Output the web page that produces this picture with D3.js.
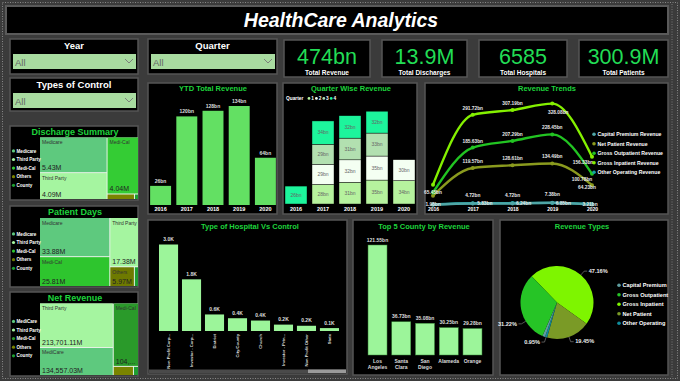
<!DOCTYPE html>
<html><head><meta charset="utf-8">
<script src="https://cdn.jsdelivr.net/npm/d3@7"></script>
<style>
body{margin:0;background:#3b3b3b;}
svg{display:block;font-family:"Liberation Sans",Arial,sans-serif;}
</style>
</head><body>
<svg id="c" width="680" height="381"></svg>
<script>
// ---------------- DATA ----------------
const years = ["2016","2017","2018","2019","2020"];
const ytdRevenue = [25.9, 120.0, 127.6, 134.1, 64.0];

const quarters = ["1","2","3","4"];
const q1Revenue = [0, 28.3, 31.4, 34.6, 33.8];
const q2Revenue = [0, 29.2, 32.4, 34.7, 30.2];
const q3Revenue = [0, 28.9, 31.4, 33.2, 0];
const q4Revenue = [25.9, 33.6, 32.4, 31.6, 0];

const trendSeries = ["Capital Premium Revenue","Net Patient Revenue","Gross Outpatient Revenue","Gross Inpatient Revenue","Other Operating Revenue"];
const capitalPremium = [0.62, 4.72, 4.72, 7.38, 1.35];
const netPatient = [30.12, 119.57, 128.61, 134.49, 64.23];
const grossOutpatient = [40.47, 185.63, 207.29, 228.45, 100.78];
const grossInpatient = [65.45, 291.72, 307.19, 328.08, 156.33];
const otherOperating = [1.98, 5.83, 6.24, 6.85, 3.21];

const hospitalTypes = ["Non Profit Corp...","Investor - Corp...","District","City/County","Church","Investor - Prtn...","Non Profit Other","State"];
const hospitalCounts = [2.98, 1.78, 0.57, 0.44, 0.36, 0.22, 0.18, 0.10];

const counties = ["Los Angeles","Santa Clara","San Diego","Alameda","Orange"];
const countyRevenue = [121.55, 36.73, 35.08, 30.25, 29.28];

const revenueTypes = ["Capital Premium","Gross Outpatient","Gross Inpatient","Net Patient","Other Operating"];
const revenueShares = [1.22, 31.22, 47.16, 19.45, 0.95];

const payerCats = ["Medicare","Third Party","Medi-Cal","Others","County"];
const dischargeVals = [5.43, 4.09, 4.04, 0.34, 0.05];
const patientDayVals = [33.88, 17.38, 25.81, 5.97, 1.0];
const netRevenueCats = ["MediCare","Third Party","Medi-Cal","Others","County"];
const netRevenueVals = [134557.03, 213701.11, 104312.5, 12000, 3000];

const kpiValues = ["474bn","13.9M","6585","300.9M"];
const kpiLabels = ["Total Revenue","Total Discharges","Total Hospitals","Total Patients"];

// ---------------- STYLE ----------------
const GREEN_T = "#1ed43c";
const BAR = "#63e063";
const BAR2 = "#9cf59a";
const svg = d3.select("#c");

svg.append("rect").attr("width",680).attr("height",381).attr("fill","#3b3b3b");
svg.append("rect").attr("x",2.5).attr("y",2.5).attr("width",675).attr("height",376)
  .attr("fill","none").attr("stroke","#888").attr("stroke-dasharray","1,1.5");
svg.append("line").attr("x1",672).attr("x2",672).attr("y1",4).attr("y2",377)
  .attr("stroke","#777").attr("stroke-dasharray","1,1.5");

function panel(x,y,w,h){
  svg.append("rect").attr("x",x).attr("y",y).attr("width",w).attr("height",h)
    .attr("fill","#000").attr("stroke","#555").attr("stroke-width",1.5);
}
function title(txt,x,y,size){
  svg.append("text").attr("x",x).attr("y",y).attr("text-anchor","middle")
    .attr("fill",GREEN_T).attr("font-weight","bold").attr("font-size",size||7.5).text(txt);
}

// Title bar
svg.append("rect").attr("x",6).attr("y",6).attr("width",662).attr("height",28)
  .attr("fill","#000").attr("stroke","#5a5a5a").attr("stroke-width",2);
svg.append("text").attr("x",341).attr("y",27).attr("text-anchor","middle")
  .attr("fill","#fff").attr("font-weight","bold").attr("font-style","italic")
  .attr("font-size",19.5).text("HealthCare Analytics");

// Slicers
function slicer(x,y,w,h,label,ly,dy){
  panel(x,y,w,h);
  svg.append("text").attr("x",x+w/2).attr("y",ly).attr("text-anchor","middle")
    .attr("fill","#fff").attr("font-weight","bold").attr("font-size",9.5).text(label);
  svg.append("rect").attr("x",x+3).attr("y",dy).attr("width",w-5).attr("height",15)
    .attr("fill","#a8dba0");
  svg.append("text").attr("x",x+5).attr("y",dy+11.5).attr("fill","#666")
    .attr("font-size",9.5).text("All");
  const cx = x+w-9;
  svg.append("polyline").attr("points",`${cx-4},${dy+5} ${cx},${dy+9} ${cx+4},${dy+5}`)
    .attr("fill","none").attr("stroke","#777").attr("stroke-width",0.9);
}
slicer(10,39,128,35,"Year",49,54);
slicer(148,39,129,35,"Quarter",49,54);
slicer(10,78,128,33,"Types of Control",88,93);

// KPI cards
const kpiBoxes = [[284,40,86,37],[382,40,85,37],[479,40,88,37],[579,40,89,37]];
kpiValues.forEach((v,i)=>{
  const b = kpiBoxes[i];
  panel(b[0],b[1],b[2],b[3]);
  svg.append("text").attr("x",b[0]+b[2]/2).attr("y",64).attr("text-anchor","middle")
    .attr("fill","#22dd55").attr("font-size",21.5).text(v);
  svg.append("text").attr("x",b[0]+b[2]/2).attr("y",74.5).attr("text-anchor","middle")
    .attr("fill","#fff").attr("font-weight","bold").attr("font-size",6.5).text(kpiLabels[i]);
});

// ---------------- TREEMAPS ----------------
function truncate(sel, maxW){
  const node = sel.node();
  let t = sel.text();
  if (node.getComputedTextLength() <= maxW) return true;
  while (t.length > 0) {
    t = t.slice(0,-1);
    sel.text(t + "...");
    if (node.getComputedTextLength() <= maxW) return true;
  }
  sel.remove(); return false;
}
function treemapPanel(py,ph,ttl,ty,cats,vals,colors,fmt,legendY){
  panel(10,py,128,ph);
  title(ttl,75,ty,9);
  const x0=40, y0=ty+3, w=98, h=py+ph-y0-1;
  const root = d3.hierarchy({children:cats.map((c,i)=>({name:c,value:vals[i]}))})
    .sum(d=>d.value||0).sort((a,b)=>b.value-a.value);
  d3.treemap().size([w,h]).paddingInner(1)(root);
  const g = svg.append("g").attr("transform",`translate(${x0},${y0})`);
  g.append("rect").attr("width",w).attr("height",h).attr("fill","#e6f2e6");
  const cell = g.selectAll("g").data(root.leaves()).join("g")
    .attr("transform",d=>`translate(${d.x0},${d.y0})`);
  cell.append("rect").attr("width",d=>d.x1-d.x0).attr("height",d=>d.y1-d.y0)
    .attr("fill",d=>colors[d.data.name]);
  cell.each(function(d){
    const cw=d.x1-d.x0, chh=d.y1-d.y0;
    const s=d3.select(this);
    if (chh>=14 && cw>=10){
      const n = s.append("text").attr("x",2).attr("y",6.5).attr("font-size",5)
        .attr("fill","#333").text(d.data.name);
      truncate(n,cw-3);
    }
    if (chh>=12 && cw>=10){
      const v = s.append("text").attr("x",2).attr("y",chh-2).attr("font-size",7)
        .attr("fill","#222").text(fmt(d.data.value));
      truncate(v,cw-3);
    }
  });
  cats.forEach((c,i)=>{
    svg.append("circle").attr("cx",13.5).attr("cy",legendY+i*8.6-1.6).attr("r",1.6)
      .attr("fill",colors[c]);
    svg.append("text").attr("x",16.5).attr("y",legendY+i*8.6).attr("font-size",4.6)
      .attr("font-weight","bold").attr("fill","#fff").text(c);
  });
}
treemapPanel(126,74,"Discharge Summary",134.5,payerCats,dischargeVals,
  {"Medicare":"#5ec97e","Third Party":"#a5f5a0","Medi-Cal":"#34cc34","Others":"#7a8400","County":"#1e9e32"},
  v=>v.toFixed(2)+"M",152.5);
treemapPanel(206,81,"Patient Days",215,payerCats,patientDayVals,
  {"Medicare":"#5ec97e","Third Party":"#a5f5a0","Medi-Cal":"#2ec52e","Others":"#6e7a00","County":"#1e9e32"},
  v=>v.toFixed(2)+"M",235.5);
treemapPanel(292,84,"Net Revenue",300.5,netRevenueCats,netRevenueVals,
  {"MediCare":"#5ec97e","Third Party":"#a5f5a0","Medi-Cal":"#2a9a2a","Others":"#7a8400","County":"#1e9e32"},
  v=>d3.format(",.2f")(v)+"M",323);

// ---------------- YTD TOTAL REVENUE ----------------
panel(148,83,129,131);
title("YTD Total Revenue",213,91);
{
  const x = d3.scaleBand().domain(years).range([147.5,278.5]).paddingInner(0.2).paddingOuter(0.1);
  const y = d3.scaleLinear().domain([0,134.1]).range([205,106]);
  svg.append("g").selectAll("rect").data(years).join("rect")
    .attr("x",d=>x(d)).attr("width",x.bandwidth())
    .attr("y",(d,i)=>y(ytdRevenue[i])).attr("height",(d,i)=>y(0)-y(ytdRevenue[i]))
    .attr("fill",BAR);
  svg.append("g").selectAll("text").data(years).join("text")
    .attr("x",d=>x(d)+x.bandwidth()/2).attr("y",(d,i)=>y(ytdRevenue[i])-3)
    .attr("text-anchor","middle").attr("font-size",5).attr("font-weight","bold")
    .attr("fill","#ddd").text((d,i)=>Math.round(ytdRevenue[i])+"bn");
  const ax = svg.append("g").attr("transform","translate(0,205)")
    .call(d3.axisBottom(x).tickSize(0).tickPadding(2));
  ax.select(".domain").remove();
  ax.selectAll("text").attr("fill","#fff").attr("font-size",5.5).attr("font-weight","bold");
}

// ---------------- QUARTER WISE REVENUE ----------------
panel(283,83,134,131);
title("Quarter Wise Revenue",351,91);
{
  const qColors = ["#b6f29e","#f4fff2","#b2e0b0","#1df59c"];
  const qSeries = [q1Revenue,q2Revenue,q3Revenue,q4Revenue];
  const rows = years.map((yr,i)=>{const o={year:yr}; quarters.forEach((q,j)=>o[q]=qSeries[j][i]); return o;});
  const stack = d3.stack().keys(quarters)(rows);
  const x = d3.scaleBand().domain(years).range([282.3,417.7]).paddingInner(0.185).paddingOuter(0.1);
  const y = d3.scaleLinear().domain([0,134.1]).range([204,111.2]);
  stack.forEach((layer,j)=>{
    const g = svg.append("g");
    layer.forEach((d,i)=>{
      if (d[1]-d[0] <= 0) return;
      g.append("rect").attr("x",x(years[i])).attr("width",x.bandwidth())
        .attr("y",y(d[1])).attr("height",y(d[0])-y(d[1]))
        .attr("fill",qColors[j]).attr("stroke","#000").attr("stroke-width",0.4);
      g.append("text").attr("x",x(years[i])+x.bandwidth()/2).attr("y",(y(d[0])+y(d[1]))/2+1.8)
        .attr("text-anchor","middle").attr("font-size",5).attr("fill","#666")
        .text(Math.round(d[1]-d[0])+"bn");
    });
  });
  const ax = svg.append("g").attr("transform","translate(0,204)")
    .call(d3.axisBottom(x).tickSize(0).tickPadding(3));
  ax.select(".domain").remove();
  ax.selectAll("text").attr("fill","#fff").attr("font-size",5.5).attr("font-weight","bold");
  svg.append("text").attr("x",286).attr("y",100).attr("font-size",4.8).attr("font-weight","bold")
    .attr("fill","#fff").text("Quarter");
  quarters.forEach((q,j)=>{
    const lx = 309 + j*7.4;
    svg.append("circle").attr("cx",lx).attr("cy",98.4).attr("r",1.4).attr("fill",qColors[j]);
    svg.append("text").attr("x",lx+2.3).attr("y",100).attr("font-size",4.8).attr("font-weight","bold")
      .attr("fill","#fff").text(q);
  });
}

// ---------------- REVENUE TRENDS ----------------
panel(425,83,243,131);
title("Revenue Trends",547,90.5);
{
  const tColors = {"Capital Premium Revenue":"#4fa6a6","Net Patient Revenue":"#8a9a1e",
    "Gross Outpatient Revenue":"#22c422","Gross Inpatient Revenue":"#84f000","Other Operating Revenue":"#16a3a3"};
  const tValues = {"Capital Premium Revenue":capitalPremium,"Net Patient Revenue":netPatient,
    "Gross Outpatient Revenue":grossOutpatient,"Gross Inpatient Revenue":grossInpatient,"Other Operating Revenue":otherOperating};
  const labelStyle = {
    "Gross Inpatient Revenue":{show:[1,1,1,1,1],dx:[0,0,0,6,-9],dy:[9,-5,-5,10,7]},
    "Gross Outpatient Revenue":{show:[0,1,1,1,1],dx:[0,0,0,0,-10],dy:[0,-5,-5,-5,7]},
    "Net Patient Revenue":{show:[0,1,1,1,1],dx:[0,0,0,0,-5],dy:[0,-5,-5,-5,4]},
    "Capital Premium Revenue":{show:[0,1,1,1,0],dx:[0,0,0,0,0],dy:[0,-7,-7,-7,0]},
    "Other Operating Revenue":{show:[1,1,1,1,1],dx:[0,12,11,11,-2],dy:[2,2,2,2,2]}
  };
  const x = d3.scalePoint().domain(years).range([433,592]);
  const y = d3.scaleLinear().domain([0,330]).range([205,103]);
  const line = d3.line().x((d,i)=>x(years[i])).y(d=>y(d)).curve(d3.curveMonotoneX);
  const drawOrder = ["Other Operating Revenue","Capital Premium Revenue","Net Patient Revenue","Gross Outpatient Revenue","Gross Inpatient Revenue"];
  drawOrder.forEach(s=>{
    const vals = tValues[s];
    svg.append("path").datum(vals).attr("d",line).attr("fill","none")
      .attr("stroke",tColors[s]).attr("stroke-width",2.4);
    svg.append("g").selectAll("circle").data(vals).join("circle")
      .attr("cx",(d,i)=>x(years[i])).attr("cy",d=>y(d)).attr("r",2).attr("fill",tColors[s]);
  });
  drawOrder.forEach(s=>{
    const vals = tValues[s], st = labelStyle[s];
    vals.forEach((v,i)=>{
      if(!st.show[i]) return;
      svg.append("text").attr("x",x(years[i])+st.dx[i]).attr("y",y(v)+st.dy[i])
        .attr("text-anchor","middle").attr("font-size",4.8).attr("font-weight","bold")
        .attr("fill","#e8e8e8").text(v.toFixed(2)+"bn");
    });
  });
  const ax = svg.append("g").attr("transform","translate(0,205)")
    .call(d3.axisBottom(x).tickSize(0).tickPadding(2.5));
  ax.select(".domain").remove();
  ax.selectAll("text").attr("fill","#fff").attr("font-size",5).attr("font-weight","bold");
  trendSeries.forEach((s,i)=>{
    const ly = 136 + i*9.5;
    svg.append("circle").attr("cx",594).attr("cy",ly-1.7).attr("r",1.8).attr("fill",tColors[s]);
    svg.append("text").attr("x",597.5).attr("y",ly).attr("font-size",5.2).attr("font-weight","bold")
      .attr("fill","#fff").text(s);
  });
}

// ---------------- TYPE OF HOSPITAL VS CONTROL ----------------
panel(148,220,199,154);
title("Type of Hospital Vs Control",250,228.5);
{
  const x = d3.scaleBand().domain(hospitalTypes).range([152.1,345.9]).paddingInner(0.17).paddingOuter(0.3);
  const y = d3.scaleLinear().domain([0,2.98]).range([331,244.5]);
  svg.append("g").selectAll("rect").data(hospitalTypes).join("rect")
    .attr("x",d=>x(d)).attr("width",x.bandwidth())
    .attr("y",(d,i)=>y(hospitalCounts[i])).attr("height",(d,i)=>y(0)-y(hospitalCounts[i]))
    .attr("fill",BAR2);
  svg.append("g").selectAll("text").data(hospitalTypes).join("text")
    .attr("x",d=>x(d)+x.bandwidth()/2).attr("y",(d,i)=>y(hospitalCounts[i])-3.5)
    .attr("text-anchor","middle").attr("font-size",5).attr("font-weight","bold")
    .attr("fill","#ddd").text((d,i)=>hospitalCounts[i].toFixed(1)+"K");
  const ax = svg.append("g").attr("transform","translate(0,331)")
    .call(d3.axisBottom(x).tickSize(0));
  ax.select(".domain").remove();
  ax.selectAll("text").attr("fill","#ddd").attr("font-size",4.2).attr("font-weight","bold")
    .attr("transform","rotate(-90)").attr("text-anchor","end")
    .attr("x",-3).attr("y",0).attr("dy","0.35em");
  svg.append("rect").attr("x",149).attr("y",369.5).attr("width",197).attr("height",3.5).attr("fill","#4a4a4a");
  svg.append("rect").attr("x",308).attr("y",369.5).attr("width",38).attr("height",3.5).attr("fill","#9a9a9a");
}

// ---------------- TOP 5 COUNTY ----------------
panel(353,220,140,155);
title("Top 5 County by Revenue",424,228.5);
{
  const x = d3.scaleBand().domain(counties).range([360.9,489.1]).paddingInner(0.2).paddingOuter(0.3);
  const y = d3.scaleLinear().domain([0,121.55]).range([355,245]);
  svg.append("g").selectAll("rect").data(counties).join("rect")
    .attr("x",d=>x(d)).attr("width",x.bandwidth())
    .attr("y",(d,i)=>y(countyRevenue[i])).attr("height",(d,i)=>y(0)-y(countyRevenue[i]))
    .attr("fill",BAR2).attr("stroke","#3a8a3a").attr("stroke-width",0.5);
  svg.append("g").selectAll("text").data(counties).join("text")
    .attr("x",d=>x(d)+x.bandwidth()/2).attr("y",(d,i)=>y(countyRevenue[i])-3.5)
    .attr("text-anchor","middle").attr("font-size",5).attr("font-weight","bold")
    .attr("fill","#ddd").text((d,i)=>countyRevenue[i].toFixed(2)+"bn");
  counties.forEach(c=>{
    const words = c.split(" ");
    const t = svg.append("text").attr("x",x(c)+x.bandwidth()/2).attr("y",362.5)
      .attr("text-anchor","middle").attr("font-size",5).attr("font-weight","bold").attr("fill","#ddd");
    words.forEach((w,k)=>t.append("tspan").attr("x",x(c)+x.bandwidth()/2).attr("dy",k?6.5:0).text(w));
  });
}

// ---------------- REVENUE TYPES PIE ----------------
panel(500,220,168,155);
title("Revenue Types",582,228.5);
{
  const pColors = {"Capital Premium":"#5f9ea0","Gross Outpatient":"#26c426","Gross Inpatient":"#7ef500",
    "Net Patient":"#7a9a26","Other Operating":"#0f8c9c"};
  const pieOrder = ["Gross Inpatient","Net Patient","Other Operating","Capital Premium","Gross Outpatient"];
  const labelAngleOverride = {"Gross Outpatient":239};
  const start = -44*Math.PI/180;
  const items = pieOrder.map(n=>({name:n, v:revenueShares[revenueTypes.indexOf(n)]}));
  const arcs = d3.pie().value(d=>d.v).sort(null).startAngle(start).endAngle(start+2*Math.PI)(items);
  const cx=557, cy=302.5, r=36.5;
  const arc = d3.arc().innerRadius(0).outerRadius(r);
  const g = svg.append("g").attr("transform",`translate(${cx},${cy})`);
  g.selectAll("path").data(arcs).join("path").attr("d",arc)
    .attr("fill",d=>pColors[d.data.name]);
  arcs.forEach(d=>{
    if (d.data.name==="Capital Premium") return;
    let a = (d.startAngle+d.endAngle)/2;
    if (labelAngleOverride[d.data.name]!==undefined) a = labelAngleOverride[d.data.name]*Math.PI/180;
    const sx = Math.sin(a)*r, sy = -Math.cos(a)*r;
    const ex = Math.sin(a)*(r+5), ey = -Math.cos(a)*(r+5);
    const right = Math.sin(a) > 0;
    const hx = ex + (right?3:-3);
    g.append("polyline").attr("points",`${sx},${sy} ${ex},${ey} ${hx},${ey}`)
      .attr("fill","none").attr("stroke","#aaa").attr("stroke-width",0.5);
    g.append("text").attr("x",hx+(right?1.5:-1.5)).attr("y",ey+1.8)
      .attr("text-anchor",right?"start":"end").attr("font-size",5.6).attr("font-weight","bold")
      .attr("fill","#eee").text(d.data.v.toFixed(2)+"%");
  });
  revenueTypes.forEach((n,i)=>{
    const ly = 287 + i*9.5;
    svg.append("circle").attr("cx",619).attr("cy",ly-1.7).attr("r",1.8).attr("fill",pColors[n]);
    svg.append("text").attr("x",622.5).attr("y",ly).attr("font-size",5.6).attr("font-weight","bold")
      .attr("fill","#fff").text(n);
  });
}
</script>
</body></html>
